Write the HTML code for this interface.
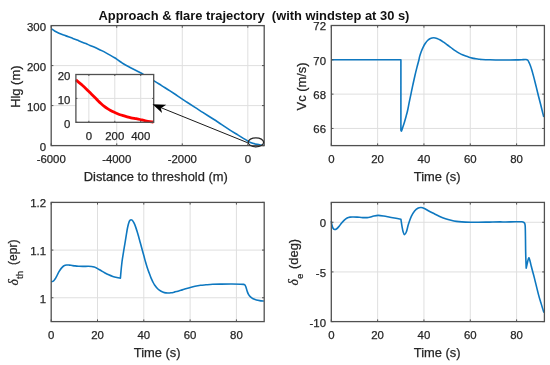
<!DOCTYPE html>
<html><head><meta charset="utf-8"><style>html,body{margin:0;padding:0;background:#fff;overflow:hidden;}svg{display:block;filter:blur(0.3px);}text{white-space:pre;stroke:#262626;stroke-width:0.25px;}</style></head><body>
<svg width="550" height="365" viewBox="0 0 550 365" font-family='"Liberation Sans", Arial, Helvetica, sans-serif' fill="#262626">
<rect width="550" height="365" fill="#ffffff"/>
<line x1="116.74" y1="25.60" x2="116.74" y2="145.60" stroke="#dfdfdf" stroke-width="1"/>
<line x1="182.28" y1="25.60" x2="182.28" y2="145.60" stroke="#dfdfdf" stroke-width="1"/>
<line x1="247.82" y1="25.60" x2="247.82" y2="145.60" stroke="#dfdfdf" stroke-width="1"/>
<line x1="51.20" y1="105.60" x2="264.20" y2="105.60" stroke="#dfdfdf" stroke-width="1"/>
<line x1="51.20" y1="65.60" x2="264.20" y2="65.60" stroke="#dfdfdf" stroke-width="1"/>
<path d="M51.20,28.70 C51.77,29.08 53.30,30.25 54.60,31.00 C55.90,31.75 57.52,32.53 59.00,33.20 C60.48,33.87 61.93,34.42 63.50,35.00 C65.07,35.58 66.85,36.13 68.40,36.70 C69.95,37.27 71.35,37.83 72.80,38.40 C74.25,38.97 75.65,39.52 77.10,40.10 C78.55,40.68 80.03,41.32 81.50,41.90 C82.97,42.48 84.48,43.02 85.90,43.60 C87.32,44.18 88.63,44.82 90.00,45.40 C91.37,45.98 92.73,46.52 94.10,47.10 C95.47,47.68 96.83,48.27 98.20,48.90 C99.57,49.53 100.93,50.20 102.30,50.90 C103.67,51.60 105.03,52.35 106.40,53.10 C107.77,53.85 109.13,54.62 110.50,55.40 C111.87,56.18 113.45,57.08 114.60,57.80 C115.75,58.52 116.50,59.08 117.40,59.70 C118.30,60.32 119.17,60.93 120.00,61.50 C120.83,62.07 121.63,62.60 122.40,63.10 C123.17,63.60 123.53,63.88 124.60,64.50 C125.67,65.12 127.38,66.05 128.80,66.80 C130.22,67.55 131.65,68.27 133.10,69.00 C134.55,69.73 136.03,70.45 137.50,71.20 C138.97,71.95 140.48,72.68 141.90,73.50 C143.32,74.32 144.65,75.27 146.00,76.10 C147.35,76.93 148.73,77.75 150.00,78.50 C151.27,79.25 152.15,79.73 153.60,80.60 C155.05,81.47 157.17,82.75 158.70,83.70 C160.23,84.65 160.92,85.10 162.80,86.30 C164.68,87.50 167.43,89.23 170.00,90.90 C172.57,92.57 175.47,94.48 178.20,96.30 C180.93,98.12 183.67,99.98 186.40,101.80 C189.13,103.62 191.87,105.43 194.60,107.20 C197.33,108.97 199.70,110.43 202.80,112.40 C205.90,114.37 210.10,117.00 213.20,119.00 C216.30,121.00 218.67,122.60 221.40,124.40 C224.13,126.20 226.87,128.05 229.60,129.80 C232.33,131.55 235.63,133.55 237.80,134.90 C239.97,136.25 240.93,136.87 242.60,137.90 C244.27,138.93 246.48,140.33 247.80,141.10 C249.12,141.87 249.52,142.08 250.50,142.50 C251.48,142.92 252.62,143.28 253.70,143.60 C254.78,143.92 255.90,144.17 257.00,144.40 C258.10,144.63 259.17,144.83 260.30,145.00 C261.43,145.17 263.22,145.33 263.80,145.40" fill="none" stroke="#0e78c0" stroke-width="1.6" stroke-linejoin="round"/>
<rect x="51.20" y="25.60" width="213.00" height="120.00" fill="none" stroke="#505050" stroke-width="1.3"/>
<line x1="51.20" y1="145.60" x2="51.20" y2="143.40" stroke="#505050" stroke-width="1"/>
<line x1="51.20" y1="25.60" x2="51.20" y2="27.80" stroke="#505050" stroke-width="1"/>
<line x1="116.74" y1="145.60" x2="116.74" y2="143.40" stroke="#505050" stroke-width="1"/>
<line x1="116.74" y1="25.60" x2="116.74" y2="27.80" stroke="#505050" stroke-width="1"/>
<line x1="182.28" y1="145.60" x2="182.28" y2="143.40" stroke="#505050" stroke-width="1"/>
<line x1="182.28" y1="25.60" x2="182.28" y2="27.80" stroke="#505050" stroke-width="1"/>
<line x1="247.82" y1="145.60" x2="247.82" y2="143.40" stroke="#505050" stroke-width="1"/>
<line x1="247.82" y1="25.60" x2="247.82" y2="27.80" stroke="#505050" stroke-width="1"/>
<line x1="51.20" y1="145.60" x2="53.40" y2="145.60" stroke="#505050" stroke-width="1"/>
<line x1="264.20" y1="145.60" x2="262.00" y2="145.60" stroke="#505050" stroke-width="1"/>
<line x1="51.20" y1="105.60" x2="53.40" y2="105.60" stroke="#505050" stroke-width="1"/>
<line x1="264.20" y1="105.60" x2="262.00" y2="105.60" stroke="#505050" stroke-width="1"/>
<line x1="51.20" y1="65.60" x2="53.40" y2="65.60" stroke="#505050" stroke-width="1"/>
<line x1="264.20" y1="65.60" x2="262.00" y2="65.60" stroke="#505050" stroke-width="1"/>
<line x1="51.20" y1="25.60" x2="53.40" y2="25.60" stroke="#505050" stroke-width="1"/>
<line x1="264.20" y1="25.60" x2="262.00" y2="25.60" stroke="#505050" stroke-width="1"/>
<text x="51.20" y="162.90" text-anchor="middle" font-size="11.4">-6000</text>
<text x="116.74" y="162.90" text-anchor="middle" font-size="11.4">-4000</text>
<text x="182.28" y="162.90" text-anchor="middle" font-size="11.4">-2000</text>
<text x="247.82" y="162.90" text-anchor="middle" font-size="11.4">0</text>
<text x="46.00" y="150.50" text-anchor="end" font-size="11.4">0</text>
<text x="46.00" y="110.50" text-anchor="end" font-size="11.4">100</text>
<text x="46.00" y="70.50" text-anchor="end" font-size="11.4">200</text>
<text x="46.00" y="30.50" text-anchor="end" font-size="11.4">300</text>
<text x="155.75" y="181.0" text-anchor="middle" font-size="12.9">Distance to threshold (m)</text>
<text transform="translate(20.3,86.7) rotate(-90)" text-anchor="middle" font-size="12.9">Hlg (m)</text>
<line x1="377.63" y1="25.50" x2="377.63" y2="145.60" stroke="#dfdfdf" stroke-width="1"/>
<line x1="423.95" y1="25.50" x2="423.95" y2="145.60" stroke="#dfdfdf" stroke-width="1"/>
<line x1="470.28" y1="25.50" x2="470.28" y2="145.60" stroke="#dfdfdf" stroke-width="1"/>
<line x1="516.60" y1="25.50" x2="516.60" y2="145.60" stroke="#dfdfdf" stroke-width="1"/>
<line x1="331.30" y1="59.81" x2="544.40" y2="59.81" stroke="#dfdfdf" stroke-width="1"/>
<line x1="331.30" y1="94.13" x2="544.40" y2="94.13" stroke="#dfdfdf" stroke-width="1"/>
<line x1="331.30" y1="128.44" x2="544.40" y2="128.44" stroke="#dfdfdf" stroke-width="1"/>
<path d="M331.3,59.8 L400.9,59.8 L400.9,130.0 C401.00,130.18 401.22,131.47 401.50,131.10 C401.78,130.73 402.10,129.33 402.60,127.80 C403.10,126.27 403.90,123.88 404.50,121.90 C405.10,119.92 405.68,117.80 406.20,115.90 C406.72,114.00 407.12,112.67 407.60,110.50 C408.08,108.33 408.55,105.60 409.10,102.90 C409.65,100.20 410.30,97.17 410.90,94.30 C411.50,91.43 412.03,88.80 412.70,85.70 C413.37,82.60 414.18,78.80 414.90,75.70 C415.62,72.60 416.33,69.72 417.00,67.10 C417.67,64.48 418.47,61.75 418.90,60.00 C419.33,58.25 419.22,57.98 419.60,56.60 C419.98,55.22 420.60,53.28 421.20,51.70 C421.80,50.12 422.53,48.47 423.20,47.10 C423.87,45.73 424.43,44.65 425.20,43.50 C425.97,42.35 426.93,41.05 427.80,40.20 C428.67,39.35 429.42,38.80 430.40,38.40 C431.38,38.00 432.60,37.80 433.70,37.80 C434.80,37.80 435.90,38.03 437.00,38.40 C438.10,38.77 439.20,39.37 440.30,40.00 C441.40,40.63 442.57,41.48 443.60,42.20 C444.63,42.92 445.55,43.62 446.50,44.30 C447.45,44.98 448.28,45.53 449.30,46.30 C450.32,47.07 451.50,48.08 452.60,48.90 C453.70,49.72 454.82,50.50 455.90,51.20 C456.98,51.90 458.02,52.50 459.10,53.10 C460.18,53.70 461.30,54.30 462.40,54.80 C463.50,55.30 464.60,55.70 465.70,56.10 C466.80,56.50 467.90,56.87 469.00,57.20 C470.10,57.53 471.20,57.85 472.30,58.10 C473.40,58.35 474.50,58.52 475.60,58.70 C476.70,58.88 477.83,59.07 478.90,59.20 C479.97,59.33 480.15,59.40 482.00,59.50 C483.85,59.60 487.00,59.72 490.00,59.80 C493.00,59.88 496.67,59.97 500.00,60.00 C503.33,60.03 507.33,60.02 510.00,60.00 C512.67,59.98 514.08,59.95 516.00,59.90 C517.92,59.85 519.85,59.77 521.50,59.70 C523.15,59.63 524.85,59.40 525.90,59.50 C526.95,59.60 527.27,59.77 527.80,60.30 C528.33,60.83 528.65,61.75 529.10,62.70 C529.55,63.65 530.03,64.75 530.50,66.00 C530.97,67.25 531.48,68.83 531.90,70.20 C532.32,71.57 532.63,72.83 533.00,74.20 C533.37,75.57 533.55,76.25 534.10,78.40 C534.65,80.55 535.58,84.22 536.30,87.10 C537.02,89.98 537.68,92.83 538.40,95.70 C539.12,98.57 539.88,101.43 540.60,104.30 C541.32,107.17 542.17,110.78 542.70,112.90 C543.23,115.02 543.62,116.32 543.80,117.00" fill="none" stroke="#0e78c0" stroke-width="1.6" stroke-linejoin="round"/>
<rect x="331.30" y="25.50" width="213.10" height="120.10" fill="none" stroke="#505050" stroke-width="1.3"/>
<line x1="331.30" y1="145.60" x2="331.30" y2="143.40" stroke="#505050" stroke-width="1"/>
<line x1="331.30" y1="25.50" x2="331.30" y2="27.70" stroke="#505050" stroke-width="1"/>
<line x1="377.63" y1="145.60" x2="377.63" y2="143.40" stroke="#505050" stroke-width="1"/>
<line x1="377.63" y1="25.50" x2="377.63" y2="27.70" stroke="#505050" stroke-width="1"/>
<line x1="423.95" y1="145.60" x2="423.95" y2="143.40" stroke="#505050" stroke-width="1"/>
<line x1="423.95" y1="25.50" x2="423.95" y2="27.70" stroke="#505050" stroke-width="1"/>
<line x1="470.28" y1="145.60" x2="470.28" y2="143.40" stroke="#505050" stroke-width="1"/>
<line x1="470.28" y1="25.50" x2="470.28" y2="27.70" stroke="#505050" stroke-width="1"/>
<line x1="516.60" y1="145.60" x2="516.60" y2="143.40" stroke="#505050" stroke-width="1"/>
<line x1="516.60" y1="25.50" x2="516.60" y2="27.70" stroke="#505050" stroke-width="1"/>
<line x1="331.30" y1="25.50" x2="333.50" y2="25.50" stroke="#505050" stroke-width="1"/>
<line x1="544.40" y1="25.50" x2="542.20" y2="25.50" stroke="#505050" stroke-width="1"/>
<line x1="331.30" y1="59.81" x2="333.50" y2="59.81" stroke="#505050" stroke-width="1"/>
<line x1="544.40" y1="59.81" x2="542.20" y2="59.81" stroke="#505050" stroke-width="1"/>
<line x1="331.30" y1="94.13" x2="333.50" y2="94.13" stroke="#505050" stroke-width="1"/>
<line x1="544.40" y1="94.13" x2="542.20" y2="94.13" stroke="#505050" stroke-width="1"/>
<line x1="331.30" y1="128.44" x2="333.50" y2="128.44" stroke="#505050" stroke-width="1"/>
<line x1="544.40" y1="128.44" x2="542.20" y2="128.44" stroke="#505050" stroke-width="1"/>
<text x="331.30" y="162.90" text-anchor="middle" font-size="11.4">0</text>
<text x="377.63" y="162.90" text-anchor="middle" font-size="11.4">20</text>
<text x="423.95" y="162.90" text-anchor="middle" font-size="11.4">40</text>
<text x="470.28" y="162.90" text-anchor="middle" font-size="11.4">60</text>
<text x="516.60" y="162.90" text-anchor="middle" font-size="11.4">80</text>
<text x="326.00" y="30.40" text-anchor="end" font-size="11.4">72</text>
<text x="326.00" y="64.71" text-anchor="end" font-size="11.4">70</text>
<text x="326.00" y="99.03" text-anchor="end" font-size="11.4">68</text>
<text x="326.00" y="133.34" text-anchor="end" font-size="11.4">66</text>
<text x="437.2" y="181.0" text-anchor="middle" font-size="12.9">Time (s)</text>
<text transform="translate(305.8,86.4) rotate(-90)" text-anchor="middle" font-size="12.9">Vc (m/s)</text>
<line x1="97.50" y1="202.40" x2="97.50" y2="321.60" stroke="#dfdfdf" stroke-width="1"/>
<line x1="143.81" y1="202.40" x2="143.81" y2="321.60" stroke="#dfdfdf" stroke-width="1"/>
<line x1="190.11" y1="202.40" x2="190.11" y2="321.60" stroke="#dfdfdf" stroke-width="1"/>
<line x1="236.42" y1="202.40" x2="236.42" y2="321.60" stroke="#dfdfdf" stroke-width="1"/>
<line x1="51.20" y1="250.08" x2="264.20" y2="250.08" stroke="#dfdfdf" stroke-width="1"/>
<line x1="51.20" y1="297.76" x2="264.20" y2="297.76" stroke="#dfdfdf" stroke-width="1"/>
<path d="M51.30,281.80 C51.63,281.70 52.70,281.62 53.30,281.20 C53.90,280.78 54.35,280.10 54.90,279.30 C55.45,278.50 56.05,277.43 56.60,276.40 C57.15,275.37 57.65,274.12 58.20,273.10 C58.75,272.08 59.28,271.22 59.90,270.30 C60.52,269.38 61.22,268.35 61.90,267.60 C62.58,266.85 63.22,266.23 64.00,265.80 C64.78,265.37 65.72,265.12 66.60,265.00 C67.48,264.88 68.40,265.02 69.30,265.10 C70.20,265.18 71.05,265.37 72.00,265.50 C72.95,265.63 73.92,265.78 75.00,265.90 C76.08,266.02 77.20,266.12 78.50,266.20 C79.80,266.28 81.17,266.38 82.80,266.40 C84.43,266.42 86.83,266.28 88.30,266.30 C89.77,266.32 90.62,266.37 91.60,266.50 C92.58,266.63 93.40,266.85 94.20,267.10 C95.00,267.35 95.35,267.47 96.40,268.00 C97.45,268.53 99.13,269.52 100.50,270.30 C101.87,271.08 103.23,271.95 104.60,272.70 C105.97,273.45 107.33,274.18 108.70,274.80 C110.07,275.42 111.43,275.95 112.80,276.40 C114.17,276.85 115.63,277.20 116.90,277.50 C118.17,277.80 119.82,278.08 120.40,278.20 C120.52,276.87 120.88,272.48 121.10,270.20 C121.32,267.92 121.50,266.27 121.70,264.50 C121.90,262.73 122.03,261.47 122.30,259.60 C122.57,257.73 122.97,255.37 123.30,253.30 C123.63,251.23 123.95,249.32 124.30,247.20 C124.65,245.08 125.05,242.73 125.40,240.60 C125.75,238.47 126.08,236.33 126.40,234.40 C126.72,232.47 126.98,230.65 127.30,229.00 C127.62,227.35 127.97,225.77 128.30,224.50 C128.63,223.23 128.98,222.13 129.30,221.40 C129.62,220.67 129.90,220.38 130.20,220.10 C130.50,219.82 130.80,219.70 131.10,219.70 C131.40,219.70 131.70,219.87 132.00,220.10 C132.30,220.33 132.55,220.58 132.90,221.10 C133.25,221.62 133.63,222.20 134.10,223.20 C134.57,224.20 135.18,225.68 135.70,227.10 C136.22,228.52 136.72,230.13 137.20,231.70 C137.68,233.27 138.08,234.65 138.60,236.50 C139.12,238.35 139.73,240.72 140.30,242.80 C140.87,244.88 141.42,246.88 142.00,249.00 C142.58,251.12 143.23,253.42 143.80,255.50 C144.37,257.58 144.83,259.52 145.40,261.50 C145.97,263.48 146.57,265.47 147.20,267.40 C147.83,269.33 148.57,271.35 149.20,273.10 C149.83,274.85 150.42,276.48 151.00,277.90 C151.58,279.32 152.10,280.42 152.70,281.60 C153.30,282.78 153.73,283.77 154.60,285.00 C155.47,286.23 156.82,287.95 157.90,289.00 C158.98,290.05 160.02,290.70 161.10,291.30 C162.18,291.90 163.30,292.32 164.40,292.60 C165.50,292.88 166.60,292.97 167.70,293.00 C168.80,293.03 169.90,292.95 171.00,292.80 C172.10,292.65 173.20,292.37 174.30,292.10 C175.40,291.83 176.50,291.50 177.60,291.20 C178.70,290.90 179.82,290.62 180.90,290.30 C181.98,289.98 182.65,289.73 184.10,289.30 C185.55,288.87 187.78,288.20 189.60,287.70 C191.42,287.20 193.18,286.70 195.00,286.30 C196.82,285.90 198.67,285.55 200.50,285.30 C202.33,285.05 203.98,284.97 206.00,284.80 C208.02,284.63 210.10,284.42 212.60,284.30 C215.10,284.18 217.78,284.15 221.00,284.10 C224.22,284.05 228.62,283.98 231.90,284.00 C235.18,284.02 238.75,284.13 240.70,284.20 C242.65,284.27 242.90,284.28 243.60,284.40 C244.30,284.52 244.68,284.82 244.90,284.90 C245.02,285.12 245.37,285.65 245.60,286.20 C245.83,286.75 246.03,287.35 246.30,288.20 C246.57,289.05 246.83,290.27 247.20,291.30 C247.57,292.33 247.95,293.47 248.50,294.40 C249.05,295.33 249.73,296.18 250.50,296.90 C251.27,297.62 252.12,298.20 253.10,298.70 C254.08,299.20 255.30,299.58 256.40,299.90 C257.50,300.22 258.47,300.40 259.70,300.60 C260.93,300.80 263.12,301.02 263.80,301.10" fill="none" stroke="#0e78c0" stroke-width="1.6" stroke-linejoin="round"/>
<rect x="51.20" y="202.40" width="213.00" height="119.20" fill="none" stroke="#505050" stroke-width="1.3"/>
<line x1="51.20" y1="321.60" x2="51.20" y2="319.40" stroke="#505050" stroke-width="1"/>
<line x1="51.20" y1="202.40" x2="51.20" y2="204.60" stroke="#505050" stroke-width="1"/>
<line x1="97.50" y1="321.60" x2="97.50" y2="319.40" stroke="#505050" stroke-width="1"/>
<line x1="97.50" y1="202.40" x2="97.50" y2="204.60" stroke="#505050" stroke-width="1"/>
<line x1="143.81" y1="321.60" x2="143.81" y2="319.40" stroke="#505050" stroke-width="1"/>
<line x1="143.81" y1="202.40" x2="143.81" y2="204.60" stroke="#505050" stroke-width="1"/>
<line x1="190.11" y1="321.60" x2="190.11" y2="319.40" stroke="#505050" stroke-width="1"/>
<line x1="190.11" y1="202.40" x2="190.11" y2="204.60" stroke="#505050" stroke-width="1"/>
<line x1="236.42" y1="321.60" x2="236.42" y2="319.40" stroke="#505050" stroke-width="1"/>
<line x1="236.42" y1="202.40" x2="236.42" y2="204.60" stroke="#505050" stroke-width="1"/>
<line x1="51.20" y1="202.40" x2="53.40" y2="202.40" stroke="#505050" stroke-width="1"/>
<line x1="264.20" y1="202.40" x2="262.00" y2="202.40" stroke="#505050" stroke-width="1"/>
<line x1="51.20" y1="250.08" x2="53.40" y2="250.08" stroke="#505050" stroke-width="1"/>
<line x1="264.20" y1="250.08" x2="262.00" y2="250.08" stroke="#505050" stroke-width="1"/>
<line x1="51.20" y1="297.76" x2="53.40" y2="297.76" stroke="#505050" stroke-width="1"/>
<line x1="264.20" y1="297.76" x2="262.00" y2="297.76" stroke="#505050" stroke-width="1"/>
<text x="51.20" y="338.80" text-anchor="middle" font-size="11.4">0</text>
<text x="97.50" y="338.80" text-anchor="middle" font-size="11.4">20</text>
<text x="143.81" y="338.80" text-anchor="middle" font-size="11.4">40</text>
<text x="190.11" y="338.80" text-anchor="middle" font-size="11.4">60</text>
<text x="236.42" y="338.80" text-anchor="middle" font-size="11.4">80</text>
<text x="46.00" y="207.30" text-anchor="end" font-size="11.4">1.2</text>
<text x="46.00" y="254.98" text-anchor="end" font-size="11.4">1.1</text>
<text x="46.00" y="302.66" text-anchor="end" font-size="11.4">1</text>
<text x="157.2" y="356.9" text-anchor="middle" font-size="12.9">Time (s)</text>
<g transform="translate(17.5,0) rotate(-90)" font-size="12.9"><text x="-285.6" y="0" font-family="'Liberation Serif', serif" font-style="italic" font-size="13.6">δ</text><text x="-279.0" y="5.8" font-size="9.7">th</text><text x="-264.9" y="-0.7" textLength="25.4" lengthAdjust="spacingAndGlyphs">(epr)</text></g>
<line x1="377.63" y1="202.40" x2="377.63" y2="321.60" stroke="#dfdfdf" stroke-width="1"/>
<line x1="423.95" y1="202.40" x2="423.95" y2="321.60" stroke="#dfdfdf" stroke-width="1"/>
<line x1="470.28" y1="202.40" x2="470.28" y2="321.60" stroke="#dfdfdf" stroke-width="1"/>
<line x1="516.60" y1="202.40" x2="516.60" y2="321.60" stroke="#dfdfdf" stroke-width="1"/>
<line x1="331.30" y1="222.27" x2="544.40" y2="222.27" stroke="#dfdfdf" stroke-width="1"/>
<line x1="331.30" y1="271.93" x2="544.40" y2="271.93" stroke="#dfdfdf" stroke-width="1"/>
<path d="M331.30,221.20 C331.38,221.73 331.53,223.27 331.80,224.40 C332.07,225.53 332.43,227.17 332.90,228.00 C333.37,228.83 334.02,229.23 334.60,229.40 C335.18,229.57 335.73,229.42 336.40,229.00 C337.07,228.58 337.77,227.85 338.60,226.90 C339.43,225.95 340.45,224.43 341.40,223.30 C342.35,222.17 343.35,220.98 344.30,220.10 C345.25,219.22 346.15,218.50 347.10,218.00 C348.05,217.50 348.93,217.27 350.00,217.10 C351.07,216.93 352.32,217.00 353.50,217.00 C354.68,217.00 355.55,217.00 357.10,217.10 C358.65,217.20 360.93,217.53 362.80,217.60 C364.67,217.67 366.47,217.77 368.30,217.50 C370.13,217.23 372.15,216.35 373.80,216.00 C375.45,215.65 376.55,215.40 378.20,215.40 C379.85,215.40 381.73,215.70 383.70,216.00 C385.67,216.30 387.95,216.82 390.00,217.20 C392.05,217.58 394.18,217.97 396.00,218.30 C397.82,218.63 400.08,219.05 400.90,219.20 C401.08,220.38 401.63,224.20 402.00,226.30 C402.37,228.40 402.68,230.42 403.10,231.80 C403.52,233.18 403.95,234.60 404.50,234.60 C405.05,234.60 405.73,233.55 406.40,231.80 C407.07,230.05 407.68,226.67 408.50,224.10 C409.32,221.53 410.28,218.58 411.30,216.40 C412.32,214.22 413.52,212.37 414.60,211.00 C415.68,209.63 416.72,208.78 417.80,208.20 C418.88,207.62 420.00,207.45 421.10,207.50 C422.20,207.55 423.12,207.92 424.40,208.50 C425.68,209.08 427.15,210.13 428.80,211.00 C430.45,211.87 432.48,212.80 434.30,213.70 C436.12,214.60 437.83,215.57 439.70,216.40 C441.57,217.23 443.62,218.05 445.50,218.70 C447.38,219.35 449.18,219.85 451.00,220.30 C452.82,220.75 454.58,221.13 456.40,221.40 C458.22,221.67 459.52,221.77 461.90,221.90 C464.28,222.03 467.97,222.13 470.70,222.20 C473.43,222.27 475.20,222.32 478.30,222.30 C481.40,222.28 485.68,222.17 489.30,222.10 C492.92,222.03 497.28,221.92 500.00,221.90 C502.72,221.88 503.07,222.03 505.60,222.00 C508.13,221.97 512.48,221.73 515.20,221.70 C517.92,221.67 520.38,221.63 521.90,221.80 C523.42,221.97 523.90,222.55 524.30,222.70 C524.45,223.25 525.00,223.12 525.20,226.00 C525.40,228.88 525.43,236.20 525.50,240.00 C525.57,243.80 525.55,245.88 525.60,248.80 C525.65,251.72 525.70,254.27 525.80,257.50 C525.90,260.73 526.13,266.42 526.20,268.20 C526.40,267.30 526.98,264.53 527.40,262.80 C527.82,261.07 528.27,258.10 528.70,257.80 C529.13,257.50 529.57,259.58 530.00,261.00 C530.43,262.42 530.87,264.58 531.30,266.30 C531.73,268.02 532.10,269.42 532.60,271.30 C533.10,273.18 533.32,273.72 534.30,277.60 C535.28,281.48 537.40,290.40 538.50,294.60 C539.60,298.80 540.08,300.07 540.90,302.80 C541.72,305.53 542.87,309.37 543.40,311.00 C543.93,312.63 543.98,312.33 544.10,312.60" fill="none" stroke="#0e78c0" stroke-width="1.6" stroke-linejoin="round"/>
<rect x="331.30" y="202.40" width="213.10" height="119.20" fill="none" stroke="#505050" stroke-width="1.3"/>
<line x1="331.30" y1="321.60" x2="331.30" y2="319.40" stroke="#505050" stroke-width="1"/>
<line x1="331.30" y1="202.40" x2="331.30" y2="204.60" stroke="#505050" stroke-width="1"/>
<line x1="377.63" y1="321.60" x2="377.63" y2="319.40" stroke="#505050" stroke-width="1"/>
<line x1="377.63" y1="202.40" x2="377.63" y2="204.60" stroke="#505050" stroke-width="1"/>
<line x1="423.95" y1="321.60" x2="423.95" y2="319.40" stroke="#505050" stroke-width="1"/>
<line x1="423.95" y1="202.40" x2="423.95" y2="204.60" stroke="#505050" stroke-width="1"/>
<line x1="470.28" y1="321.60" x2="470.28" y2="319.40" stroke="#505050" stroke-width="1"/>
<line x1="470.28" y1="202.40" x2="470.28" y2="204.60" stroke="#505050" stroke-width="1"/>
<line x1="516.60" y1="321.60" x2="516.60" y2="319.40" stroke="#505050" stroke-width="1"/>
<line x1="516.60" y1="202.40" x2="516.60" y2="204.60" stroke="#505050" stroke-width="1"/>
<line x1="331.30" y1="222.27" x2="333.50" y2="222.27" stroke="#505050" stroke-width="1"/>
<line x1="544.40" y1="222.27" x2="542.20" y2="222.27" stroke="#505050" stroke-width="1"/>
<line x1="331.30" y1="271.93" x2="333.50" y2="271.93" stroke="#505050" stroke-width="1"/>
<line x1="544.40" y1="271.93" x2="542.20" y2="271.93" stroke="#505050" stroke-width="1"/>
<line x1="331.30" y1="321.60" x2="333.50" y2="321.60" stroke="#505050" stroke-width="1"/>
<line x1="544.40" y1="321.60" x2="542.20" y2="321.60" stroke="#505050" stroke-width="1"/>
<text x="331.30" y="338.80" text-anchor="middle" font-size="11.4">0</text>
<text x="377.63" y="338.80" text-anchor="middle" font-size="11.4">20</text>
<text x="423.95" y="338.80" text-anchor="middle" font-size="11.4">40</text>
<text x="470.28" y="338.80" text-anchor="middle" font-size="11.4">60</text>
<text x="516.60" y="338.80" text-anchor="middle" font-size="11.4">80</text>
<text x="326.00" y="227.17" text-anchor="end" font-size="11.4">0</text>
<text x="326.00" y="276.83" text-anchor="end" font-size="11.4">-5</text>
<text x="326.00" y="326.50" text-anchor="end" font-size="11.4">-10</text>
<text x="437.2" y="356.9" text-anchor="middle" font-size="12.9">Time (s)</text>
<g transform="translate(297.5,0) rotate(-90)" font-size="12.9"><text x="-285.6" y="0" font-family="'Liberation Serif', serif" font-style="italic" font-size="13.6">δ</text><text x="-279.0" y="5.8" font-size="9.7">e</text><text x="-269.0" y="0">(deg)</text></g>
<line x1="247.8" y1="142.8" x2="160.8" y2="107.6" stroke="#1a1a1a" stroke-width="1"/>
<ellipse cx="255.9" cy="142.35" rx="7.7" ry="4.55" fill="none" stroke="#262626" stroke-width="1.2"/>
<rect x="75.9" y="74.5" width="77.80" height="47.80" fill="#ffffff"/>
<line x1="88.87" y1="74.50" x2="88.87" y2="122.30" stroke="#dfdfdf" stroke-width="1"/>
<line x1="114.80" y1="74.50" x2="114.80" y2="122.30" stroke="#dfdfdf" stroke-width="1"/>
<line x1="140.73" y1="74.50" x2="140.73" y2="122.30" stroke="#dfdfdf" stroke-width="1"/>
<line x1="75.90" y1="98.40" x2="153.70" y2="98.40" stroke="#dfdfdf" stroke-width="1"/>
<path d="M75.90,79.90 C76.43,80.35 78.03,81.70 79.10,82.60 C80.17,83.50 81.23,84.37 82.30,85.30 C83.37,86.23 84.45,87.20 85.50,88.20 C86.55,89.20 87.55,90.27 88.60,91.30 C89.65,92.33 90.75,93.37 91.80,94.40 C92.85,95.43 93.87,96.45 94.90,97.50 C95.93,98.55 96.95,99.67 98.00,100.70 C99.05,101.73 100.15,102.77 101.20,103.70 C102.25,104.63 103.25,105.48 104.30,106.30 C105.35,107.12 106.45,107.90 107.50,108.60 C108.55,109.30 109.55,109.92 110.60,110.50 C111.65,111.08 112.73,111.60 113.80,112.10 C114.87,112.60 115.95,113.07 117.00,113.50 C118.05,113.93 119.05,114.33 120.10,114.70 C121.15,115.07 122.25,115.38 123.30,115.70 C124.35,116.02 125.12,116.25 126.40,116.60 C127.68,116.95 129.40,117.45 131.00,117.80 C132.60,118.15 134.50,118.42 136.00,118.70 C137.50,118.98 138.42,119.15 140.00,119.50 C141.58,119.85 143.25,120.38 145.50,120.80 C147.75,121.22 152.17,121.80 153.50,122.00" fill="none" stroke="#ff0000" stroke-width="2.8" stroke-linecap="butt" stroke-linejoin="round"/>
<rect x="75.90" y="74.50" width="77.80" height="47.80" fill="none" stroke="#505050" stroke-width="1.3"/>
<line x1="88.87" y1="122.30" x2="88.87" y2="120.80" stroke="#505050" stroke-width="1"/>
<line x1="88.87" y1="74.50" x2="88.87" y2="76.00" stroke="#505050" stroke-width="1"/>
<line x1="114.80" y1="122.30" x2="114.80" y2="120.80" stroke="#505050" stroke-width="1"/>
<line x1="114.80" y1="74.50" x2="114.80" y2="76.00" stroke="#505050" stroke-width="1"/>
<line x1="140.73" y1="122.30" x2="140.73" y2="120.80" stroke="#505050" stroke-width="1"/>
<line x1="140.73" y1="74.50" x2="140.73" y2="76.00" stroke="#505050" stroke-width="1"/>
<line x1="75.90" y1="122.30" x2="77.40" y2="122.30" stroke="#505050" stroke-width="1"/>
<line x1="153.70" y1="122.30" x2="152.20" y2="122.30" stroke="#505050" stroke-width="1"/>
<line x1="75.90" y1="98.40" x2="77.40" y2="98.40" stroke="#505050" stroke-width="1"/>
<line x1="153.70" y1="98.40" x2="152.20" y2="98.40" stroke="#505050" stroke-width="1"/>
<line x1="75.90" y1="74.50" x2="77.40" y2="74.50" stroke="#505050" stroke-width="1"/>
<line x1="153.70" y1="74.50" x2="152.20" y2="74.50" stroke="#505050" stroke-width="1"/>
<text x="88.87" y="139.90" text-anchor="middle" font-size="11.4">0</text>
<text x="114.80" y="139.90" text-anchor="middle" font-size="11.4">200</text>
<text x="140.73" y="139.90" text-anchor="middle" font-size="11.4">400</text>
<text x="70.40" y="127.60" text-anchor="end" font-size="11.4">0</text>
<text x="70.40" y="103.70" text-anchor="end" font-size="11.4">10</text>
<text x="70.40" y="79.80" text-anchor="end" font-size="11.4">20</text>
<path d="M152.5,104.3 L166.3,104.7 L160.8,108.3 L162.1,113.1 Z" fill="#000000"/>
<text x="98.5" y="19.9" font-size="12.9" font-weight="bold" fill="#111111" style="stroke:none">Approach &amp; flare trajectory  (with windstep at 30 s)</text>
</svg>
</body></html>
